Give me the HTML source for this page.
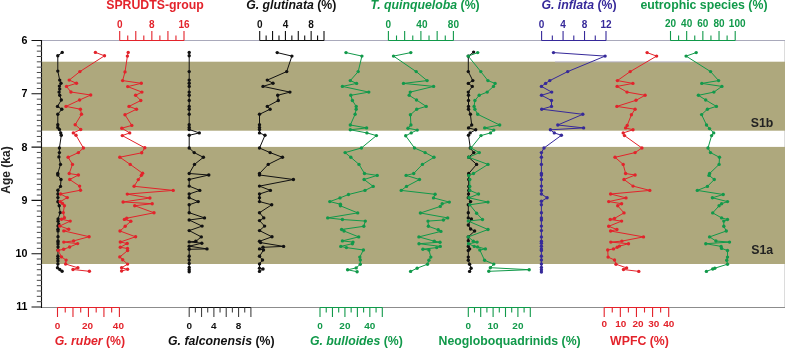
<!DOCTYPE html><html><head><meta charset="utf-8"><title>chart</title><style>html,body{margin:0;padding:0;background:#fff;}svg{display:block}</style></head><body>
<svg width="785" height="348" viewBox="0 0 785 348">
<line x1="784.5" y1="40.5" x2="784.5" y2="307.5" stroke="#dcdcdc" stroke-width="1"/>
<rect x="42" y="61.7" width="743" height="69" fill="#aea87d"/>
<rect x="42" y="146.9" width="743" height="117.1" fill="#aea87d"/>
<line x1="555" y1="61.9" x2="690" y2="61.9" stroke="#b8b4d6" stroke-width="0.8"/>
<line x1="42" y1="40.5" x2="785" y2="40.5" stroke="#a9a9bb" stroke-width="1"/>
<line x1="42" y1="307.5" x2="785" y2="307.5" stroke="#8c8c8c" stroke-width="1"/>
<line x1="41.5" y1="40" x2="41.5" y2="308" stroke="#111111" stroke-width="1.1"/>
<path d="M31.5 40.50H42 M31.5 93.80H42 M31.5 147.10H42 M31.5 200.40H42 M31.5 253.70H42 M31.5 307.00H42" stroke="#111111" stroke-width="1.1" fill="none"/>
<path d="M36.8 45.83H42 M36.8 51.16H42 M36.8 56.49H42 M36.8 61.82H42 M36.8 67.15H42 M36.8 72.48H42 M36.8 77.81H42 M36.8 83.14H42 M36.8 88.47H42 M36.8 99.13H42 M36.8 104.46H42 M36.8 109.79H42 M36.8 115.12H42 M36.8 120.45H42 M36.8 125.78H42 M36.8 131.11H42 M36.8 136.44H42 M36.8 141.77H42 M36.8 152.43H42 M36.8 157.76H42 M36.8 163.09H42 M36.8 168.42H42 M36.8 173.75H42 M36.8 179.08H42 M36.8 184.41H42 M36.8 189.74H42 M36.8 195.07H42 M36.8 205.73H42 M36.8 211.06H42 M36.8 216.39H42 M36.8 221.72H42 M36.8 227.05H42 M36.8 232.38H42 M36.8 237.71H42 M36.8 243.04H42 M36.8 248.37H42 M36.8 259.03H42 M36.8 264.36H42 M36.8 269.69H42 M36.8 275.02H42 M36.8 280.35H42 M36.8 285.68H42 M36.8 291.01H42 M36.8 296.34H42 M36.8 301.67H42" stroke="#4a4a4a" stroke-width="1" fill="none"/>
<text x="27.5" y="43.9" text-anchor="end" font-size="10.7" font-family="Liberation Sans, Arial, sans-serif" font-weight="bold" fill="#000">6</text>
<text x="27.5" y="97.2" text-anchor="end" font-size="10.7" font-family="Liberation Sans, Arial, sans-serif" font-weight="bold" fill="#000">7</text>
<text x="27.5" y="150.5" text-anchor="end" font-size="10.7" font-family="Liberation Sans, Arial, sans-serif" font-weight="bold" fill="#000">8</text>
<text x="27.5" y="203.8" text-anchor="end" font-size="10.7" font-family="Liberation Sans, Arial, sans-serif" font-weight="bold" fill="#000">9</text>
<text x="27.5" y="257.1" text-anchor="end" font-size="10.7" font-family="Liberation Sans, Arial, sans-serif" font-weight="bold" fill="#000">10</text>
<text x="27.5" y="310.4" text-anchor="end" font-size="10.7" font-family="Liberation Sans, Arial, sans-serif" font-weight="bold" fill="#000">11</text>
<text transform="translate(10.3,170) rotate(-90)" text-anchor="middle" font-size="12" font-family="Liberation Sans, Arial, sans-serif" font-weight="bold" fill="#222">Age (ka)</text>
<line x1="119.7" y1="40.5" x2="184" y2="40.5" stroke="#e3232b" stroke-width="1.2"/>
<path d="M119.70 40.5v-9.5 M127.74 40.5v-5 M135.78 40.5v-9.5 M143.81 40.5v-5 M151.85 40.5v-9.5 M159.89 40.5v-5 M167.93 40.5v-9.5 M175.96 40.5v-5 M184.00 40.5v-9.5" stroke="#e3232b" stroke-width="1.1" fill="none"/>
<text x="119.70" y="27.6" text-anchor="middle" font-size="10" font-family="Liberation Sans, Arial, sans-serif" font-weight="bold" fill="#e3232b">0</text>
<text x="151.85" y="27.6" text-anchor="middle" font-size="10" font-family="Liberation Sans, Arial, sans-serif" font-weight="bold" fill="#e3232b">8</text>
<text x="184.00" y="27.6" text-anchor="middle" font-size="10" font-family="Liberation Sans, Arial, sans-serif" font-weight="bold" fill="#e3232b">16</text>
<text x="106.2" y="9.2" font-size="12.3" font-family="Liberation Sans, Arial, sans-serif" font-weight="bold" fill="#e3232b"><tspan font-style="normal">SPRUDTS-group</tspan></text>
<line x1="259.7" y1="40.5" x2="324" y2="40.5" stroke="#111111" stroke-width="1.2"/>
<path d="M259.70 40.5v-9.5 M266.13 40.5v-5 M272.56 40.5v-9.5 M278.99 40.5v-5 M285.42 40.5v-9.5 M291.85 40.5v-5 M298.28 40.5v-9.5 M304.71 40.5v-5 M311.14 40.5v-9.5 M317.57 40.5v-5 M324.00 40.5v-9.5" stroke="#111111" stroke-width="1.1" fill="none"/>
<text x="259.70" y="27.6" text-anchor="middle" font-size="10" font-family="Liberation Sans, Arial, sans-serif" font-weight="bold" fill="#111111">0</text>
<text x="285.42" y="27.6" text-anchor="middle" font-size="10" font-family="Liberation Sans, Arial, sans-serif" font-weight="bold" fill="#111111">4</text>
<text x="311.14" y="27.6" text-anchor="middle" font-size="10" font-family="Liberation Sans, Arial, sans-serif" font-weight="bold" fill="#111111">8</text>
<text x="246.2" y="9.2" font-size="12.3" font-family="Liberation Sans, Arial, sans-serif" font-weight="bold" fill="#111111"><tspan font-style="italic">G. glutinata</tspan><tspan font-style="normal"> (%)</tspan></text>
<line x1="388.4" y1="40.5" x2="453.4" y2="40.5" stroke="#11994a" stroke-width="1.2"/>
<path d="M388.40 40.5v-9.5 M396.52 40.5v-5 M404.65 40.5v-9.5 M412.77 40.5v-5 M420.90 40.5v-9.5 M429.02 40.5v-5 M437.15 40.5v-9.5 M445.27 40.5v-5 M453.40 40.5v-9.5" stroke="#11994a" stroke-width="1.1" fill="none"/>
<text x="388.40" y="27.6" text-anchor="middle" font-size="10" font-family="Liberation Sans, Arial, sans-serif" font-weight="bold" fill="#11994a">0</text>
<text x="421.90" y="27.6" text-anchor="middle" font-size="10" font-family="Liberation Sans, Arial, sans-serif" font-weight="bold" fill="#11994a">40</text>
<text x="453.40" y="27.6" text-anchor="middle" font-size="10" font-family="Liberation Sans, Arial, sans-serif" font-weight="bold" fill="#11994a">80</text>
<text x="370.6" y="9.2" font-size="12.3" font-family="Liberation Sans, Arial, sans-serif" font-weight="bold" fill="#11994a"><tspan font-style="italic">T. quinqueloba</tspan><tspan font-style="normal"> (%)</tspan></text>
<line x1="541.6" y1="40.5" x2="606" y2="40.5" stroke="#36299a" stroke-width="1.2"/>
<path d="M541.60 40.5v-9.5 M552.33 40.5v-5 M563.07 40.5v-9.5 M573.80 40.5v-5 M584.53 40.5v-9.5 M595.27 40.5v-5 M606.00 40.5v-9.5" stroke="#36299a" stroke-width="1.1" fill="none"/>
<text x="541.60" y="27.6" text-anchor="middle" font-size="10" font-family="Liberation Sans, Arial, sans-serif" font-weight="bold" fill="#36299a">0</text>
<text x="563.07" y="27.6" text-anchor="middle" font-size="10" font-family="Liberation Sans, Arial, sans-serif" font-weight="bold" fill="#36299a">4</text>
<text x="584.53" y="27.6" text-anchor="middle" font-size="10" font-family="Liberation Sans, Arial, sans-serif" font-weight="bold" fill="#36299a">8</text>
<text x="606.00" y="27.6" text-anchor="middle" font-size="10" font-family="Liberation Sans, Arial, sans-serif" font-weight="bold" fill="#36299a">12</text>
<text x="541.4" y="9.2" font-size="12.3" font-family="Liberation Sans, Arial, sans-serif" font-weight="bold" fill="#36299a"><tspan font-style="italic">G. inflata</tspan><tspan font-style="normal"> (%)</tspan></text>
<line x1="670.5" y1="40.5" x2="735.2" y2="40.5" stroke="#11994a" stroke-width="1.2"/>
<path d="M670.50 40.5v-9.5 M678.59 40.5v-5 M686.67 40.5v-9.5 M694.76 40.5v-5 M702.85 40.5v-9.5 M710.94 40.5v-5 M719.03 40.5v-9.5 M727.11 40.5v-5 M735.20 40.5v-9.5" stroke="#11994a" stroke-width="1.1" fill="none"/>
<text x="670.50" y="27.0" text-anchor="middle" font-size="10" font-family="Liberation Sans, Arial, sans-serif" font-weight="bold" fill="#11994a">20</text>
<text x="686.67" y="27.0" text-anchor="middle" font-size="10" font-family="Liberation Sans, Arial, sans-serif" font-weight="bold" fill="#11994a">40</text>
<text x="702.85" y="27.0" text-anchor="middle" font-size="10" font-family="Liberation Sans, Arial, sans-serif" font-weight="bold" fill="#11994a">60</text>
<text x="719.03" y="27.0" text-anchor="middle" font-size="10" font-family="Liberation Sans, Arial, sans-serif" font-weight="bold" fill="#11994a">80</text>
<text x="737.20" y="27.0" text-anchor="middle" font-size="10" font-family="Liberation Sans, Arial, sans-serif" font-weight="bold" fill="#11994a">100</text>
<text x="640.4" y="9.2" font-size="12.3" font-family="Liberation Sans, Arial, sans-serif" font-weight="bold" fill="#11994a"><tspan font-style="normal">eutrophic species (%)</tspan></text>
<line x1="57.5" y1="307.5" x2="119.4" y2="307.5" stroke="#e3232b" stroke-width="1.2"/>
<path d="M57.50 307.5v9.5 M65.24 307.5v5 M72.97 307.5v9.5 M80.71 307.5v5 M88.45 307.5v9.5 M96.19 307.5v5 M103.93 307.5v9.5 M111.66 307.5v5 M119.40 307.5v9.5" stroke="#e3232b" stroke-width="1.1" fill="none"/>
<text transform="translate(57.50,329.3) scale(1,0.9)" text-anchor="middle" font-size="10" font-family="Liberation Sans, Arial, sans-serif" font-weight="bold" fill="#e3232b">0</text>
<text transform="translate(87.45,329.3) scale(1,0.9)" text-anchor="middle" font-size="10" font-family="Liberation Sans, Arial, sans-serif" font-weight="bold" fill="#e3232b">20</text>
<text transform="translate(118.40,329.3) scale(1,0.9)" text-anchor="middle" font-size="10" font-family="Liberation Sans, Arial, sans-serif" font-weight="bold" fill="#e3232b">40</text>
<text x="54.7" y="345.0" font-size="12.3" font-family="Liberation Sans, Arial, sans-serif" font-weight="bold" fill="#e3232b"><tspan font-style="italic">G. ruber</tspan><tspan font-style="normal"> (%)</tspan></text>
<line x1="189.2" y1="307.5" x2="250.9" y2="307.5" stroke="#111111" stroke-width="1.2"/>
<path d="M189.20 307.5v9.5 M195.37 307.5v5 M201.54 307.5v9.5 M207.71 307.5v5 M213.88 307.5v9.5 M220.05 307.5v5 M226.22 307.5v9.5 M232.39 307.5v5 M238.56 307.5v9.5 M244.73 307.5v5 M250.90 307.5v9.5" stroke="#444" stroke-width="1.1" fill="none"/>
<text transform="translate(189.20,329.3) scale(1,0.9)" text-anchor="middle" font-size="10" font-family="Liberation Sans, Arial, sans-serif" font-weight="bold" fill="#111111">0</text>
<text transform="translate(213.88,329.3) scale(1,0.9)" text-anchor="middle" font-size="10" font-family="Liberation Sans, Arial, sans-serif" font-weight="bold" fill="#111111">4</text>
<text transform="translate(238.56,329.3) scale(1,0.9)" text-anchor="middle" font-size="10" font-family="Liberation Sans, Arial, sans-serif" font-weight="bold" fill="#111111">8</text>
<text x="168.0" y="345.0" font-size="12.3" font-family="Liberation Sans, Arial, sans-serif" font-weight="bold" fill="#111111"><tspan font-style="italic">G. falconensis</tspan><tspan font-style="normal"> (%)</tspan></text>
<line x1="320" y1="307.5" x2="382.3" y2="307.5" stroke="#11994a" stroke-width="1.2"/>
<path d="M320.00 307.5v9.5 M326.23 307.5v5 M332.46 307.5v9.5 M338.69 307.5v5 M344.92 307.5v9.5 M351.15 307.5v5 M357.38 307.5v9.5 M363.61 307.5v5 M369.84 307.5v9.5 M376.07 307.5v5 M382.30 307.5v9.5" stroke="#11994a" stroke-width="1.1" fill="none"/>
<text transform="translate(320.00,329.3) scale(1,0.9)" text-anchor="middle" font-size="10" font-family="Liberation Sans, Arial, sans-serif" font-weight="bold" fill="#11994a">0</text>
<text transform="translate(344.92,329.3) scale(1,0.9)" text-anchor="middle" font-size="10" font-family="Liberation Sans, Arial, sans-serif" font-weight="bold" fill="#11994a">20</text>
<text transform="translate(369.84,329.3) scale(1,0.9)" text-anchor="middle" font-size="10" font-family="Liberation Sans, Arial, sans-serif" font-weight="bold" fill="#11994a">40</text>
<text x="309.9" y="345.0" font-size="12.3" font-family="Liberation Sans, Arial, sans-serif" font-weight="bold" fill="#11994a"><tspan font-style="italic">G. bulloides</tspan><tspan font-style="normal"> (%)</tspan></text>
<line x1="468.3" y1="307.5" x2="530.3" y2="307.5" stroke="#11994a" stroke-width="1.2"/>
<path d="M468.30 307.5v9.5 M474.50 307.5v5 M480.70 307.5v9.5 M486.90 307.5v5 M493.10 307.5v9.5 M499.30 307.5v5 M505.50 307.5v9.5 M511.70 307.5v5 M517.90 307.5v9.5 M524.10 307.5v5 M530.30 307.5v9.5" stroke="#11994a" stroke-width="1.1" fill="none"/>
<text transform="translate(468.30,329.3) scale(1,0.9)" text-anchor="middle" font-size="10" font-family="Liberation Sans, Arial, sans-serif" font-weight="bold" fill="#11994a">0</text>
<text transform="translate(493.10,329.3) scale(1,0.9)" text-anchor="middle" font-size="10" font-family="Liberation Sans, Arial, sans-serif" font-weight="bold" fill="#11994a">10</text>
<text transform="translate(517.90,329.3) scale(1,0.9)" text-anchor="middle" font-size="10" font-family="Liberation Sans, Arial, sans-serif" font-weight="bold" fill="#11994a">20</text>
<text x="438.6" y="345.0" font-size="12.3" font-family="Liberation Sans, Arial, sans-serif" font-weight="bold" fill="#11994a"><tspan font-style="normal">Neogloboquadrinids (%)</tspan></text>
<line x1="604.2" y1="307.5" x2="668.7" y2="307.5" stroke="#e3232b" stroke-width="1.2"/>
<path d="M604.20 307.5v9.5 M612.26 307.5v5 M620.33 307.5v9.5 M628.39 307.5v5 M636.45 307.5v9.5 M644.51 307.5v5 M652.58 307.5v9.5 M660.64 307.5v5 M668.70 307.5v9.5" stroke="#e3232b" stroke-width="1.1" fill="none"/>
<text transform="translate(604.20,327.2) scale(1,0.9)" text-anchor="middle" font-size="10" font-family="Liberation Sans, Arial, sans-serif" font-weight="bold" fill="#e3232b">0</text>
<text transform="translate(620.83,327.2) scale(1,0.9)" text-anchor="middle" font-size="10" font-family="Liberation Sans, Arial, sans-serif" font-weight="bold" fill="#e3232b">10</text>
<text transform="translate(637.95,327.2) scale(1,0.9)" text-anchor="middle" font-size="10" font-family="Liberation Sans, Arial, sans-serif" font-weight="bold" fill="#e3232b">20</text>
<text transform="translate(653.78,327.2) scale(1,0.9)" text-anchor="middle" font-size="10" font-family="Liberation Sans, Arial, sans-serif" font-weight="bold" fill="#e3232b">30</text>
<text transform="translate(668.70,327.2) scale(1,0.9)" text-anchor="middle" font-size="10" font-family="Liberation Sans, Arial, sans-serif" font-weight="bold" fill="#e3232b">40</text>
<text x="610.1" y="345.0" font-size="12.3" font-family="Liberation Sans, Arial, sans-serif" font-weight="bold" fill="#e3232b"><tspan font-style="normal">WPFC (%)</tspan></text>
<polyline points="62.2,52.4 57.8,55.8 57.8,71.1 59.7,80.1 61.0,83.3 59.4,86.1 59.7,89.0 59.1,92.1 59.7,95.3 61.3,100.0 57.5,106.4 61.8,109.2 57.8,114.3 57.8,124.7 57.8,127.4 59.4,129.5 60.7,132.9 61.3,135.3 59.4,148.0 59.4,152.6 58.9,156.9 60.5,164.4 57.8,173.5 57.8,175.0 61.0,179.5 60.5,186.4 57.9,190.2 57.9,194.0 57.9,197.6 57.9,201.7 59.2,205.7 60.2,212.6 58.1,218.9 58.1,221.2 58.7,224.1 58.0,226.0 58.0,229.2 58.0,230.9 58.0,236.7 58.0,240.9 58.0,242.1 58.0,244.1 58.0,247.0 58.0,250.1 57.9,256.3 57.9,258.6 57.9,260.9 57.9,264.0 57.5,267.8 59.8,269.5 62.1,271.3" fill="none" stroke="#111111" stroke-width="1.0" stroke-linejoin="round"/>
<g fill="#111111"><circle cx="62.2" cy="52.4" r="1.7"/><circle cx="57.8" cy="55.8" r="1.7"/><circle cx="57.8" cy="71.1" r="1.7"/><circle cx="59.7" cy="80.1" r="1.7"/><circle cx="61.0" cy="83.3" r="1.7"/><circle cx="59.4" cy="86.1" r="1.7"/><circle cx="59.7" cy="89.0" r="1.7"/><circle cx="59.1" cy="92.1" r="1.7"/><circle cx="59.7" cy="95.3" r="1.7"/><circle cx="61.3" cy="100.0" r="1.7"/><circle cx="57.5" cy="106.4" r="1.7"/><circle cx="61.8" cy="109.2" r="1.7"/><circle cx="57.8" cy="114.3" r="1.7"/><circle cx="57.8" cy="124.7" r="1.7"/><circle cx="57.8" cy="127.4" r="1.7"/><circle cx="59.4" cy="129.5" r="1.7"/><circle cx="60.7" cy="132.9" r="1.7"/><circle cx="61.3" cy="135.3" r="1.7"/><circle cx="59.4" cy="148.0" r="1.7"/><circle cx="59.4" cy="152.6" r="1.7"/><circle cx="58.9" cy="156.9" r="1.7"/><circle cx="60.5" cy="164.4" r="1.7"/><circle cx="57.8" cy="173.5" r="1.7"/><circle cx="57.8" cy="175.0" r="1.7"/><circle cx="61.0" cy="179.5" r="1.7"/><circle cx="60.5" cy="186.4" r="1.7"/><circle cx="57.9" cy="190.2" r="1.7"/><circle cx="57.9" cy="194.0" r="1.7"/><circle cx="57.9" cy="197.6" r="1.7"/><circle cx="57.9" cy="201.7" r="1.7"/><circle cx="59.2" cy="205.7" r="1.7"/><circle cx="60.2" cy="212.6" r="1.7"/><circle cx="58.1" cy="218.9" r="1.7"/><circle cx="58.1" cy="221.2" r="1.7"/><circle cx="58.7" cy="224.1" r="1.7"/><circle cx="58.0" cy="226.0" r="1.7"/><circle cx="58.0" cy="229.2" r="1.7"/><circle cx="58.0" cy="230.9" r="1.7"/><circle cx="58.0" cy="236.7" r="1.7"/><circle cx="58.0" cy="240.9" r="1.7"/><circle cx="58.0" cy="242.1" r="1.7"/><circle cx="58.0" cy="244.1" r="1.7"/><circle cx="58.0" cy="247.0" r="1.7"/><circle cx="58.0" cy="250.1" r="1.7"/><circle cx="57.9" cy="256.3" r="1.7"/><circle cx="57.9" cy="258.6" r="1.7"/><circle cx="57.9" cy="260.9" r="1.7"/><circle cx="57.9" cy="264.0" r="1.7"/><circle cx="57.5" cy="267.8" r="1.7"/><circle cx="59.8" cy="269.5" r="1.7"/><circle cx="62.1" cy="271.3" r="1.7"/></g>
<polyline points="95.4,52.4 104.5,55.8 79.9,71.6 69.2,80.1 76.5,83.3 66.5,86.4 70.9,92.0 90.7,95.0 79.6,100.0 66.0,106.4 80.4,109.2 81.5,114.3 75.2,124.7 80.7,129.5 73.3,132.9 76.0,135.3 83.4,148.0 78.4,152.6 68.1,157.3 72.5,164.4 69.2,173.5 78.4,175.0 69.7,179.5 79.6,186.1 80.5,190.2 60.6,194.0 67.3,197.6 60.2,201.7 62.5,203.4 64.4,205.7 63.3,212.6 64.4,217.8 61.5,219.3 70.2,221.1 59.8,226.0 68.7,229.2 63.8,230.9 89.1,236.7 73.6,240.9 63.8,242.1 77.6,243.6 69.6,247.0 63.6,249.3 58.1,250.4 61.5,256.9 66.1,260.1 65.6,264.0 77.9,267.8 73.0,269.5 89.4,271.3" fill="none" stroke="#e3232b" stroke-width="1.0" stroke-linejoin="round"/>
<g fill="#e3232b"><circle cx="95.4" cy="52.4" r="1.7"/><circle cx="104.5" cy="55.8" r="1.7"/><circle cx="79.9" cy="71.6" r="1.7"/><circle cx="69.2" cy="80.1" r="1.7"/><circle cx="76.5" cy="83.3" r="1.7"/><circle cx="66.5" cy="86.4" r="1.7"/><circle cx="70.9" cy="92.0" r="1.7"/><circle cx="90.7" cy="95.0" r="1.7"/><circle cx="79.6" cy="100.0" r="1.7"/><circle cx="66.0" cy="106.4" r="1.7"/><circle cx="80.4" cy="109.2" r="1.7"/><circle cx="81.5" cy="114.3" r="1.7"/><circle cx="75.2" cy="124.7" r="1.7"/><circle cx="80.7" cy="129.5" r="1.7"/><circle cx="73.3" cy="132.9" r="1.7"/><circle cx="76.0" cy="135.3" r="1.7"/><circle cx="83.4" cy="148.0" r="1.7"/><circle cx="78.4" cy="152.6" r="1.7"/><circle cx="68.1" cy="157.3" r="1.7"/><circle cx="72.5" cy="164.4" r="1.7"/><circle cx="69.2" cy="173.5" r="1.7"/><circle cx="78.4" cy="175.0" r="1.7"/><circle cx="69.7" cy="179.5" r="1.7"/><circle cx="79.6" cy="186.1" r="1.7"/><circle cx="80.5" cy="190.2" r="1.7"/><circle cx="60.6" cy="194.0" r="1.7"/><circle cx="67.3" cy="197.6" r="1.7"/><circle cx="60.2" cy="201.7" r="1.7"/><circle cx="62.5" cy="203.4" r="1.7"/><circle cx="64.4" cy="205.7" r="1.7"/><circle cx="63.3" cy="212.6" r="1.7"/><circle cx="64.4" cy="217.8" r="1.7"/><circle cx="61.5" cy="219.3" r="1.7"/><circle cx="70.2" cy="221.1" r="1.7"/><circle cx="59.8" cy="226.0" r="1.7"/><circle cx="68.7" cy="229.2" r="1.7"/><circle cx="63.8" cy="230.9" r="1.7"/><circle cx="89.1" cy="236.7" r="1.7"/><circle cx="73.6" cy="240.9" r="1.7"/><circle cx="63.8" cy="242.1" r="1.7"/><circle cx="77.6" cy="243.6" r="1.7"/><circle cx="69.6" cy="247.0" r="1.7"/><circle cx="63.6" cy="249.3" r="1.7"/><circle cx="58.1" cy="250.4" r="1.7"/><circle cx="61.5" cy="256.9" r="1.7"/><circle cx="66.1" cy="260.1" r="1.7"/><circle cx="65.6" cy="264.0" r="1.7"/><circle cx="77.9" cy="267.8" r="1.7"/><circle cx="73.0" cy="269.5" r="1.7"/><circle cx="89.4" cy="271.3" r="1.7"/></g>
<polyline points="128.2,52.4 127.4,56.1 125.0,71.9 122.6,80.6 141.3,83.3 127.7,86.6 141.9,92.1 135.6,95.3 140.8,100.5 129.0,106.4 136.5,109.2 125.0,114.8 131.8,125.4 121.8,128.2 129.7,132.9 122.3,135.6 144.8,147.8 141.7,152.8 119.8,157.2 130.2,164.4 142.6,173.3 141.4,175.3 138.3,179.6 134.1,186.3 173.2,190.4 127.3,194.1 149.9,198.0 123.1,202.0 152.2,203.7 134.7,205.7 154.0,212.8 126.7,218.2 124.4,219.4 130.8,221.2 125.2,226.3 120.0,231.0 135.6,236.8 120.3,242.0 127.2,243.5 120.3,247.3 127.5,248.5 127.6,250.6 119.8,256.9 122.7,259.8 127.6,264.1 121.6,267.8 127.6,269.3 121.6,271.0" fill="none" stroke="#e3232b" stroke-width="1.0" stroke-linejoin="round"/>
<g fill="#e3232b"><circle cx="128.2" cy="52.4" r="1.7"/><circle cx="127.4" cy="56.1" r="1.7"/><circle cx="125.0" cy="71.9" r="1.7"/><circle cx="122.6" cy="80.6" r="1.7"/><circle cx="141.3" cy="83.3" r="1.7"/><circle cx="127.7" cy="86.6" r="1.7"/><circle cx="141.9" cy="92.1" r="1.7"/><circle cx="135.6" cy="95.3" r="1.7"/><circle cx="140.8" cy="100.5" r="1.7"/><circle cx="129.0" cy="106.4" r="1.7"/><circle cx="136.5" cy="109.2" r="1.7"/><circle cx="125.0" cy="114.8" r="1.7"/><circle cx="131.8" cy="125.4" r="1.7"/><circle cx="121.8" cy="128.2" r="1.7"/><circle cx="129.7" cy="132.9" r="1.7"/><circle cx="122.3" cy="135.6" r="1.7"/><circle cx="144.8" cy="147.8" r="1.7"/><circle cx="141.7" cy="152.8" r="1.7"/><circle cx="119.8" cy="157.2" r="1.7"/><circle cx="130.2" cy="164.4" r="1.7"/><circle cx="142.6" cy="173.3" r="1.7"/><circle cx="141.4" cy="175.3" r="1.7"/><circle cx="138.3" cy="179.6" r="1.7"/><circle cx="134.1" cy="186.3" r="1.7"/><circle cx="173.2" cy="190.4" r="1.7"/><circle cx="127.3" cy="194.1" r="1.7"/><circle cx="149.9" cy="198.0" r="1.7"/><circle cx="123.1" cy="202.0" r="1.7"/><circle cx="152.2" cy="203.7" r="1.7"/><circle cx="134.7" cy="205.7" r="1.7"/><circle cx="154.0" cy="212.8" r="1.7"/><circle cx="126.7" cy="218.2" r="1.7"/><circle cx="124.4" cy="219.4" r="1.7"/><circle cx="130.8" cy="221.2" r="1.7"/><circle cx="125.2" cy="226.3" r="1.7"/><circle cx="120.0" cy="231.0" r="1.7"/><circle cx="135.6" cy="236.8" r="1.7"/><circle cx="120.3" cy="242.0" r="1.7"/><circle cx="127.2" cy="243.5" r="1.7"/><circle cx="120.3" cy="247.3" r="1.7"/><circle cx="127.5" cy="248.5" r="1.7"/><circle cx="127.6" cy="250.6" r="1.7"/><circle cx="119.8" cy="256.9" r="1.7"/><circle cx="122.7" cy="259.8" r="1.7"/><circle cx="127.6" cy="264.1" r="1.7"/><circle cx="121.6" cy="267.8" r="1.7"/><circle cx="127.6" cy="269.3" r="1.7"/><circle cx="121.6" cy="271.0" r="1.7"/></g>
<polyline points="189.2,52.4 189.2,55.8 189.2,71.6 189.2,80.1 189.2,83.3 189.2,86.4 189.2,92.1 189.2,95.3 189.2,100.5 189.2,106.4 189.2,109.2 189.2,114.3 189.2,124.7 189.2,127.4 189.2,129.5 199.3,132.9 189.2,135.3 189.2,148.0 194.2,152.6 203.4,157.3 194.5,164.4 189.2,173.5 208.8,175.0 189.2,179.5 189.2,186.1 199.8,190.4 189.2,194.0 189.2,197.7 198.2,201.6 189.2,204.8 189.2,212.7 204.5,217.9 189.2,220.0 202.1,226.1 189.2,230.6 201.3,236.9 195.8,241.3 189.2,241.9 201.8,243.2 189.2,246.2 207.0,248.9 189.2,249.3 189.2,256.3 189.2,260.0 189.2,263.5 189.2,267.4 189.2,269.8 189.2,271.7" fill="none" stroke="#111111" stroke-width="1.0" stroke-linejoin="round"/>
<g fill="#111111"><circle cx="189.2" cy="52.4" r="1.7"/><circle cx="189.2" cy="55.8" r="1.7"/><circle cx="189.2" cy="71.6" r="1.7"/><circle cx="189.2" cy="80.1" r="1.7"/><circle cx="189.2" cy="83.3" r="1.7"/><circle cx="189.2" cy="86.4" r="1.7"/><circle cx="189.2" cy="92.1" r="1.7"/><circle cx="189.2" cy="95.3" r="1.7"/><circle cx="189.2" cy="100.5" r="1.7"/><circle cx="189.2" cy="106.4" r="1.7"/><circle cx="189.2" cy="109.2" r="1.7"/><circle cx="189.2" cy="114.3" r="1.7"/><circle cx="189.2" cy="124.7" r="1.7"/><circle cx="189.2" cy="127.4" r="1.7"/><circle cx="189.2" cy="129.5" r="1.7"/><circle cx="199.3" cy="132.9" r="1.7"/><circle cx="189.2" cy="135.3" r="1.7"/><circle cx="189.2" cy="148.0" r="1.7"/><circle cx="194.2" cy="152.6" r="1.7"/><circle cx="203.4" cy="157.3" r="1.7"/><circle cx="194.5" cy="164.4" r="1.7"/><circle cx="189.2" cy="173.5" r="1.7"/><circle cx="208.8" cy="175.0" r="1.7"/><circle cx="189.2" cy="179.5" r="1.7"/><circle cx="189.2" cy="186.1" r="1.7"/><circle cx="199.8" cy="190.4" r="1.7"/><circle cx="189.2" cy="194.0" r="1.7"/><circle cx="189.2" cy="197.7" r="1.7"/><circle cx="198.2" cy="201.6" r="1.7"/><circle cx="189.2" cy="204.8" r="1.7"/><circle cx="189.2" cy="212.7" r="1.7"/><circle cx="204.5" cy="217.9" r="1.7"/><circle cx="189.2" cy="220.0" r="1.7"/><circle cx="202.1" cy="226.1" r="1.7"/><circle cx="189.2" cy="230.6" r="1.7"/><circle cx="201.3" cy="236.9" r="1.7"/><circle cx="195.8" cy="241.3" r="1.7"/><circle cx="189.2" cy="241.9" r="1.7"/><circle cx="201.8" cy="243.2" r="1.7"/><circle cx="189.2" cy="246.2" r="1.7"/><circle cx="207.0" cy="248.9" r="1.7"/><circle cx="189.2" cy="249.3" r="1.7"/><circle cx="189.2" cy="256.3" r="1.7"/><circle cx="189.2" cy="260.0" r="1.7"/><circle cx="189.2" cy="263.5" r="1.7"/><circle cx="189.2" cy="267.4" r="1.7"/><circle cx="189.2" cy="269.8" r="1.7"/><circle cx="189.2" cy="271.7" r="1.7"/></g>
<polyline points="277.2,52.6 291.9,56.1 286.7,71.6 267.3,80.1 273.0,83.3 263.0,86.4 289.9,92.1 277.7,95.3 278.3,100.5 267.3,106.4 270.1,109.2 259.5,114.3 259.5,124.7 259.5,127.4 259.5,129.5 259.5,132.9 265.0,135.3 259.5,148.0 270.1,152.6 282.5,157.3 268.2,164.4 259.5,173.5 259.5,175.0 293.4,179.5 259.5,186.1 270.4,190.4 259.5,194.0 259.5,197.7 259.5,201.6 271.7,204.8 259.5,212.7 263.8,217.9 259.5,220.6 264.6,226.1 259.5,230.6 272.0,236.8 259.5,241.3 260.6,242.6 283.6,246.4 263.0,247.3 259.5,248.9 263.5,250.0 259.5,256.3 262.5,260.0 259.5,263.9 259.5,268.2 263.0,269.0 259.5,271.4" fill="none" stroke="#111111" stroke-width="1.0" stroke-linejoin="round"/>
<g fill="#111111"><circle cx="277.2" cy="52.6" r="1.7"/><circle cx="291.9" cy="56.1" r="1.7"/><circle cx="286.7" cy="71.6" r="1.7"/><circle cx="267.3" cy="80.1" r="1.7"/><circle cx="273.0" cy="83.3" r="1.7"/><circle cx="263.0" cy="86.4" r="1.7"/><circle cx="289.9" cy="92.1" r="1.7"/><circle cx="277.7" cy="95.3" r="1.7"/><circle cx="278.3" cy="100.5" r="1.7"/><circle cx="267.3" cy="106.4" r="1.7"/><circle cx="270.1" cy="109.2" r="1.7"/><circle cx="259.5" cy="114.3" r="1.7"/><circle cx="259.5" cy="124.7" r="1.7"/><circle cx="259.5" cy="127.4" r="1.7"/><circle cx="259.5" cy="129.5" r="1.7"/><circle cx="259.5" cy="132.9" r="1.7"/><circle cx="265.0" cy="135.3" r="1.7"/><circle cx="259.5" cy="148.0" r="1.7"/><circle cx="270.1" cy="152.6" r="1.7"/><circle cx="282.5" cy="157.3" r="1.7"/><circle cx="268.2" cy="164.4" r="1.7"/><circle cx="259.5" cy="173.5" r="1.7"/><circle cx="259.5" cy="175.0" r="1.7"/><circle cx="293.4" cy="179.5" r="1.7"/><circle cx="259.5" cy="186.1" r="1.7"/><circle cx="270.4" cy="190.4" r="1.7"/><circle cx="259.5" cy="194.0" r="1.7"/><circle cx="259.5" cy="197.7" r="1.7"/><circle cx="259.5" cy="201.6" r="1.7"/><circle cx="271.7" cy="204.8" r="1.7"/><circle cx="259.5" cy="212.7" r="1.7"/><circle cx="263.8" cy="217.9" r="1.7"/><circle cx="259.5" cy="220.6" r="1.7"/><circle cx="264.6" cy="226.1" r="1.7"/><circle cx="259.5" cy="230.6" r="1.7"/><circle cx="272.0" cy="236.8" r="1.7"/><circle cx="259.5" cy="241.3" r="1.7"/><circle cx="260.6" cy="242.6" r="1.7"/><circle cx="283.6" cy="246.4" r="1.7"/><circle cx="263.0" cy="247.3" r="1.7"/><circle cx="259.5" cy="248.9" r="1.7"/><circle cx="263.5" cy="250.0" r="1.7"/><circle cx="259.5" cy="256.3" r="1.7"/><circle cx="262.5" cy="260.0" r="1.7"/><circle cx="259.5" cy="263.9" r="1.7"/><circle cx="259.5" cy="268.2" r="1.7"/><circle cx="263.0" cy="269.0" r="1.7"/><circle cx="259.5" cy="271.4" r="1.7"/></g>
<polyline points="346.0,52.6 361.9,56.1 358.2,71.6 350.3,80.6 356.6,83.4 342.4,86.4 368.8,92.1 350.8,95.3 352.4,100.5 356.2,106.4 356.2,109.2 355.1,114.3 350.3,125.0 366.6,127.9 350.3,129.8 366.9,132.9 376.4,135.6 361.4,148.0 345.1,152.6 350.8,157.3 359.0,164.4 364.5,173.5 377.2,175.4 364.1,179.5 373.2,186.4 365.0,190.4 348.5,194.5 340.0,197.9 329.8,201.6 340.4,204.2 340.4,205.8 357.7,212.9 327.7,217.9 342.4,219.5 365.3,221.1 363.8,226.3 341.6,229.5 344.0,231.0 358.7,236.9 342.4,240.9 353.0,242.1 352.4,243.7 340.8,246.4 346.4,247.6 363.4,250.0 359.8,257.1 360.3,260.0 360.3,264.2 356.2,267.9 347.6,269.8 357.1,271.7" fill="none" stroke="#11994a" stroke-width="1.0" stroke-linejoin="round"/>
<g fill="#11994a"><circle cx="346.0" cy="52.6" r="1.7"/><circle cx="361.9" cy="56.1" r="1.7"/><circle cx="358.2" cy="71.6" r="1.7"/><circle cx="350.3" cy="80.6" r="1.7"/><circle cx="356.6" cy="83.4" r="1.7"/><circle cx="342.4" cy="86.4" r="1.7"/><circle cx="368.8" cy="92.1" r="1.7"/><circle cx="350.8" cy="95.3" r="1.7"/><circle cx="352.4" cy="100.5" r="1.7"/><circle cx="356.2" cy="106.4" r="1.7"/><circle cx="356.2" cy="109.2" r="1.7"/><circle cx="355.1" cy="114.3" r="1.7"/><circle cx="350.3" cy="125.0" r="1.7"/><circle cx="366.6" cy="127.9" r="1.7"/><circle cx="350.3" cy="129.8" r="1.7"/><circle cx="366.9" cy="132.9" r="1.7"/><circle cx="376.4" cy="135.6" r="1.7"/><circle cx="361.4" cy="148.0" r="1.7"/><circle cx="345.1" cy="152.6" r="1.7"/><circle cx="350.8" cy="157.3" r="1.7"/><circle cx="359.0" cy="164.4" r="1.7"/><circle cx="364.5" cy="173.5" r="1.7"/><circle cx="377.2" cy="175.4" r="1.7"/><circle cx="364.1" cy="179.5" r="1.7"/><circle cx="373.2" cy="186.4" r="1.7"/><circle cx="365.0" cy="190.4" r="1.7"/><circle cx="348.5" cy="194.5" r="1.7"/><circle cx="340.0" cy="197.9" r="1.7"/><circle cx="329.8" cy="201.6" r="1.7"/><circle cx="340.4" cy="204.2" r="1.7"/><circle cx="340.4" cy="205.8" r="1.7"/><circle cx="357.7" cy="212.9" r="1.7"/><circle cx="327.7" cy="217.9" r="1.7"/><circle cx="342.4" cy="219.5" r="1.7"/><circle cx="365.3" cy="221.1" r="1.7"/><circle cx="363.8" cy="226.3" r="1.7"/><circle cx="341.6" cy="229.5" r="1.7"/><circle cx="344.0" cy="231.0" r="1.7"/><circle cx="358.7" cy="236.9" r="1.7"/><circle cx="342.4" cy="240.9" r="1.7"/><circle cx="353.0" cy="242.1" r="1.7"/><circle cx="352.4" cy="243.7" r="1.7"/><circle cx="340.8" cy="246.4" r="1.7"/><circle cx="346.4" cy="247.6" r="1.7"/><circle cx="363.4" cy="250.0" r="1.7"/><circle cx="359.8" cy="257.1" r="1.7"/><circle cx="360.3" cy="260.0" r="1.7"/><circle cx="360.3" cy="264.2" r="1.7"/><circle cx="356.2" cy="267.9" r="1.7"/><circle cx="347.6" cy="269.8" r="1.7"/><circle cx="357.1" cy="271.7" r="1.7"/></g>
<polyline points="410.8,52.6 393.5,56.1 416.2,71.6 427.1,80.6 403.5,83.4 433.6,86.4 410.3,92.1 409.2,95.3 416.5,100.0 426.2,106.4 416.7,109.2 410.4,114.8 410.9,125.0 408.0,128.2 417.2,130.1 411.2,132.9 405.7,135.8 414.5,148.0 425.1,152.6 434.0,157.3 422.4,164.4 413.7,173.5 406.1,175.4 419.5,179.5 406.5,186.4 401.2,190.4 435.1,194.3 433.5,197.9 449.3,202.1 442.2,203.7 440.3,206.4 420.4,213.0 447.7,217.9 443.4,220.0 428.0,221.1 428.4,226.3 438.2,229.8 440.9,231.4 418.9,236.9 434.3,241.2 440.0,242.2 419.0,243.7 440.3,246.4 436.7,247.6 422.9,249.2 429.0,250.0 430.8,257.1 428.9,260.3 427.5,264.2 417.1,268.2 410.6,271.4" fill="none" stroke="#11994a" stroke-width="1.0" stroke-linejoin="round"/>
<g fill="#11994a"><circle cx="410.8" cy="52.6" r="1.7"/><circle cx="393.5" cy="56.1" r="1.7"/><circle cx="416.2" cy="71.6" r="1.7"/><circle cx="427.1" cy="80.6" r="1.7"/><circle cx="403.5" cy="83.4" r="1.7"/><circle cx="433.6" cy="86.4" r="1.7"/><circle cx="410.3" cy="92.1" r="1.7"/><circle cx="409.2" cy="95.3" r="1.7"/><circle cx="416.5" cy="100.0" r="1.7"/><circle cx="426.2" cy="106.4" r="1.7"/><circle cx="416.7" cy="109.2" r="1.7"/><circle cx="410.4" cy="114.8" r="1.7"/><circle cx="410.9" cy="125.0" r="1.7"/><circle cx="408.0" cy="128.2" r="1.7"/><circle cx="417.2" cy="130.1" r="1.7"/><circle cx="411.2" cy="132.9" r="1.7"/><circle cx="405.7" cy="135.8" r="1.7"/><circle cx="414.5" cy="148.0" r="1.7"/><circle cx="425.1" cy="152.6" r="1.7"/><circle cx="434.0" cy="157.3" r="1.7"/><circle cx="422.4" cy="164.4" r="1.7"/><circle cx="413.7" cy="173.5" r="1.7"/><circle cx="406.1" cy="175.4" r="1.7"/><circle cx="419.5" cy="179.5" r="1.7"/><circle cx="406.5" cy="186.4" r="1.7"/><circle cx="401.2" cy="190.4" r="1.7"/><circle cx="435.1" cy="194.3" r="1.7"/><circle cx="433.5" cy="197.9" r="1.7"/><circle cx="449.3" cy="202.1" r="1.7"/><circle cx="442.2" cy="203.7" r="1.7"/><circle cx="440.3" cy="206.4" r="1.7"/><circle cx="420.4" cy="213.0" r="1.7"/><circle cx="447.7" cy="217.9" r="1.7"/><circle cx="443.4" cy="220.0" r="1.7"/><circle cx="428.0" cy="221.1" r="1.7"/><circle cx="428.4" cy="226.3" r="1.7"/><circle cx="438.2" cy="229.8" r="1.7"/><circle cx="440.9" cy="231.4" r="1.7"/><circle cx="418.9" cy="236.9" r="1.7"/><circle cx="434.3" cy="241.2" r="1.7"/><circle cx="440.0" cy="242.2" r="1.7"/><circle cx="419.0" cy="243.7" r="1.7"/><circle cx="440.3" cy="246.4" r="1.7"/><circle cx="436.7" cy="247.6" r="1.7"/><circle cx="422.9" cy="249.2" r="1.7"/><circle cx="429.0" cy="250.0" r="1.7"/><circle cx="430.8" cy="257.1" r="1.7"/><circle cx="428.9" cy="260.3" r="1.7"/><circle cx="427.5" cy="264.2" r="1.7"/><circle cx="417.1" cy="268.2" r="1.7"/><circle cx="410.6" cy="271.4" r="1.7"/></g>
<polyline points="473.6,52.1 468.3,56.1 468.3,71.6 472.8,80.6 468.3,83.4 472.3,86.4 468.3,92.1 468.5,95.3 468.5,100.5 468.5,106.4 468.5,109.2 470.4,114.3 471.7,125.0 468.5,127.9 475.7,129.8 470.1,132.9 468.5,135.3 470.3,148.0 473.8,152.6 468.7,157.3 476.6,164.4 468.7,173.5 468.7,175.0 468.7,179.5 468.7,186.4 468.7,190.4 468.5,194.0 468.3,197.8 470.6,201.6 468.3,204.8 468.3,212.7 468.3,217.9 471.4,219.0 468.3,225.0 470.6,229.0 474.6,231.0 468.3,236.9 468.3,240.8 468.3,246.4 469.6,248.9 468.3,250.5 468.3,257.1 468.3,260.3 469.6,264.2 471.1,268.2 469.6,271.4" fill="none" stroke="#111111" stroke-width="1.0" stroke-linejoin="round"/>
<g fill="#111111"><circle cx="473.6" cy="52.1" r="1.7"/><circle cx="468.3" cy="56.1" r="1.7"/><circle cx="468.3" cy="71.6" r="1.7"/><circle cx="472.8" cy="80.6" r="1.7"/><circle cx="468.3" cy="83.4" r="1.7"/><circle cx="472.3" cy="86.4" r="1.7"/><circle cx="468.3" cy="92.1" r="1.7"/><circle cx="468.5" cy="95.3" r="1.7"/><circle cx="468.5" cy="100.5" r="1.7"/><circle cx="468.5" cy="106.4" r="1.7"/><circle cx="468.5" cy="109.2" r="1.7"/><circle cx="470.4" cy="114.3" r="1.7"/><circle cx="471.7" cy="125.0" r="1.7"/><circle cx="468.5" cy="127.9" r="1.7"/><circle cx="475.7" cy="129.8" r="1.7"/><circle cx="470.1" cy="132.9" r="1.7"/><circle cx="468.5" cy="135.3" r="1.7"/><circle cx="470.3" cy="148.0" r="1.7"/><circle cx="473.8" cy="152.6" r="1.7"/><circle cx="468.7" cy="157.3" r="1.7"/><circle cx="476.6" cy="164.4" r="1.7"/><circle cx="468.7" cy="173.5" r="1.7"/><circle cx="468.7" cy="175.0" r="1.7"/><circle cx="468.7" cy="179.5" r="1.7"/><circle cx="468.7" cy="186.4" r="1.7"/><circle cx="468.7" cy="190.4" r="1.7"/><circle cx="468.5" cy="194.0" r="1.7"/><circle cx="468.3" cy="197.8" r="1.7"/><circle cx="470.6" cy="201.6" r="1.7"/><circle cx="468.3" cy="204.8" r="1.7"/><circle cx="468.3" cy="212.7" r="1.7"/><circle cx="468.3" cy="217.9" r="1.7"/><circle cx="471.4" cy="219.0" r="1.7"/><circle cx="468.3" cy="225.0" r="1.7"/><circle cx="470.6" cy="229.0" r="1.7"/><circle cx="474.6" cy="231.0" r="1.7"/><circle cx="468.3" cy="236.9" r="1.7"/><circle cx="468.3" cy="240.8" r="1.7"/><circle cx="468.3" cy="246.4" r="1.7"/><circle cx="469.6" cy="248.9" r="1.7"/><circle cx="468.3" cy="250.5" r="1.7"/><circle cx="468.3" cy="257.1" r="1.7"/><circle cx="468.3" cy="260.3" r="1.7"/><circle cx="469.6" cy="264.2" r="1.7"/><circle cx="471.1" cy="268.2" r="1.7"/><circle cx="469.6" cy="271.4" r="1.7"/></g>
<polyline points="477.7,52.6 468.2,56.1 480.8,71.6 487.9,80.6 495.1,83.4 493.5,86.4 487.2,92.1 479.2,95.3 474.9,100.5 474.1,106.4 474.9,109.2 477.7,114.3 499.7,125.0 484.7,127.9 493.8,130.1 490.5,132.9 481.0,135.6 471.0,148.0 479.3,152.6 468.7,157.3 488.0,164.4 473.5,173.5 468.7,175.4 469.8,179.5 469.8,186.4 469.8,190.4 478.5,194.0 469.0,197.8 488.0,202.1 469.8,204.8 476.6,213.2 482.5,219.5 468.3,221.1 488.0,229.5 468.3,236.9 473.3,241.2 477.1,242.1 468.6,243.8 474.3,246.4 477.6,246.9 485.4,248.9 479.8,250.0 484.6,260.3 493.8,264.1 490.3,267.7 529.2,269.7 488.8,271.3" fill="none" stroke="#11994a" stroke-width="1.0" stroke-linejoin="round"/>
<g fill="#11994a"><circle cx="477.7" cy="52.6" r="1.7"/><circle cx="468.2" cy="56.1" r="1.7"/><circle cx="480.8" cy="71.6" r="1.7"/><circle cx="487.9" cy="80.6" r="1.7"/><circle cx="495.1" cy="83.4" r="1.7"/><circle cx="493.5" cy="86.4" r="1.7"/><circle cx="487.2" cy="92.1" r="1.7"/><circle cx="479.2" cy="95.3" r="1.7"/><circle cx="474.9" cy="100.5" r="1.7"/><circle cx="474.1" cy="106.4" r="1.7"/><circle cx="474.9" cy="109.2" r="1.7"/><circle cx="477.7" cy="114.3" r="1.7"/><circle cx="499.7" cy="125.0" r="1.7"/><circle cx="484.7" cy="127.9" r="1.7"/><circle cx="493.8" cy="130.1" r="1.7"/><circle cx="490.5" cy="132.9" r="1.7"/><circle cx="481.0" cy="135.6" r="1.7"/><circle cx="471.0" cy="148.0" r="1.7"/><circle cx="479.3" cy="152.6" r="1.7"/><circle cx="468.7" cy="157.3" r="1.7"/><circle cx="488.0" cy="164.4" r="1.7"/><circle cx="473.5" cy="173.5" r="1.7"/><circle cx="468.7" cy="175.4" r="1.7"/><circle cx="469.8" cy="179.5" r="1.7"/><circle cx="469.8" cy="186.4" r="1.7"/><circle cx="469.8" cy="190.4" r="1.7"/><circle cx="478.5" cy="194.0" r="1.7"/><circle cx="469.0" cy="197.8" r="1.7"/><circle cx="488.0" cy="202.1" r="1.7"/><circle cx="469.8" cy="204.8" r="1.7"/><circle cx="476.6" cy="213.2" r="1.7"/><circle cx="482.5" cy="219.5" r="1.7"/><circle cx="468.3" cy="221.1" r="1.7"/><circle cx="488.0" cy="229.5" r="1.7"/><circle cx="468.3" cy="236.9" r="1.7"/><circle cx="473.3" cy="241.2" r="1.7"/><circle cx="477.1" cy="242.1" r="1.7"/><circle cx="468.6" cy="243.8" r="1.7"/><circle cx="474.3" cy="246.4" r="1.7"/><circle cx="477.6" cy="246.9" r="1.7"/><circle cx="485.4" cy="248.9" r="1.7"/><circle cx="479.8" cy="250.0" r="1.7"/><circle cx="484.6" cy="260.3" r="1.7"/><circle cx="493.8" cy="264.1" r="1.7"/><circle cx="490.3" cy="267.7" r="1.7"/><circle cx="529.2" cy="269.7" r="1.7"/><circle cx="488.8" cy="271.3" r="1.7"/></g>
<polyline points="553.5,52.6 605.1,56.1 567.7,71.6 549.8,80.6 545.6,83.4 541.4,86.4 551.7,92.1 541.5,95.3 551.5,100.5 551.5,106.4 541.7,109.2 582.8,114.3 557.8,125.0 583.6,127.9 550.4,129.8 554.3,132.9 561.4,135.3 544.0,148.0 541.4,152.6 541.4,157.3 541.4,164.4 541.4,173.5 541.4,175.0 541.4,179.5 541.4,186.1 541.4,190.4 541.4,194.0 547.1,197.8 541.4,201.3 541.4,204.8 541.4,212.7 541.4,217.9 541.4,220.0 541.4,226.1 541.4,230.6 541.4,236.9 541.4,241.3 541.4,243.2 541.4,246.2 541.4,248.9 541.4,250.5 541.4,256.3 541.4,260.0 541.4,264.0 541.4,267.4 541.4,269.8 541.4,272.0" fill="none" stroke="#36299a" stroke-width="1.0" stroke-linejoin="round"/>
<g fill="#36299a"><circle cx="553.5" cy="52.6" r="1.7"/><circle cx="605.1" cy="56.1" r="1.7"/><circle cx="567.7" cy="71.6" r="1.7"/><circle cx="549.8" cy="80.6" r="1.7"/><circle cx="545.6" cy="83.4" r="1.7"/><circle cx="541.4" cy="86.4" r="1.7"/><circle cx="551.7" cy="92.1" r="1.7"/><circle cx="541.5" cy="95.3" r="1.7"/><circle cx="551.5" cy="100.5" r="1.7"/><circle cx="551.5" cy="106.4" r="1.7"/><circle cx="541.7" cy="109.2" r="1.7"/><circle cx="582.8" cy="114.3" r="1.7"/><circle cx="557.8" cy="125.0" r="1.7"/><circle cx="583.6" cy="127.9" r="1.7"/><circle cx="550.4" cy="129.8" r="1.7"/><circle cx="554.3" cy="132.9" r="1.7"/><circle cx="561.4" cy="135.3" r="1.7"/><circle cx="544.0" cy="148.0" r="1.7"/><circle cx="541.4" cy="152.6" r="1.7"/><circle cx="541.4" cy="157.3" r="1.7"/><circle cx="541.4" cy="164.4" r="1.7"/><circle cx="541.4" cy="173.5" r="1.7"/><circle cx="541.4" cy="175.0" r="1.7"/><circle cx="541.4" cy="179.5" r="1.7"/><circle cx="541.4" cy="186.1" r="1.7"/><circle cx="541.4" cy="190.4" r="1.7"/><circle cx="541.4" cy="194.0" r="1.7"/><circle cx="547.1" cy="197.8" r="1.7"/><circle cx="541.4" cy="201.3" r="1.7"/><circle cx="541.4" cy="204.8" r="1.7"/><circle cx="541.4" cy="212.7" r="1.7"/><circle cx="541.4" cy="217.9" r="1.7"/><circle cx="541.4" cy="220.0" r="1.7"/><circle cx="541.4" cy="226.1" r="1.7"/><circle cx="541.4" cy="230.6" r="1.7"/><circle cx="541.4" cy="236.9" r="1.7"/><circle cx="541.4" cy="241.3" r="1.7"/><circle cx="541.4" cy="243.2" r="1.7"/><circle cx="541.4" cy="246.2" r="1.7"/><circle cx="541.4" cy="248.9" r="1.7"/><circle cx="541.4" cy="250.5" r="1.7"/><circle cx="541.4" cy="256.3" r="1.7"/><circle cx="541.4" cy="260.0" r="1.7"/><circle cx="541.4" cy="264.0" r="1.7"/><circle cx="541.4" cy="267.4" r="1.7"/><circle cx="541.4" cy="269.8" r="1.7"/><circle cx="541.4" cy="272.0" r="1.7"/></g>
<polyline points="647.1,52.6 656.6,56.1 630.2,71.6 617.4,80.6 632.9,83.4 617.1,86.4 627.0,92.1 645.1,95.3 636.0,100.3 616.9,106.4 635.1,109.2 631.4,114.8 627.2,125.4 625.6,127.9 633.0,129.8 623.2,132.9 624.5,135.6 641.9,148.0 635.1,152.6 615.0,157.3 623.2,164.4 625.6,173.5 635.1,175.0 624.0,179.5 633.0,186.1 649.8,190.4 610.6,194.0 626.0,197.9 608.7,201.6 621.6,203.7 617.7,205.8 624.0,212.9 614.5,218.4 610.2,219.5 621.6,221.1 608.7,226.3 616.9,229.5 610.6,231.0 643.5,236.9 621.9,241.1 610.8,242.1 628.5,243.7 619.5,246.1 617.2,247.3 613.5,248.9 607.7,250.0 608.1,257.1 614.5,260.0 616.0,264.2 626.6,267.9 623.5,269.5 638.8,271.4" fill="none" stroke="#e3232b" stroke-width="1.0" stroke-linejoin="round"/>
<g fill="#e3232b"><circle cx="647.1" cy="52.6" r="1.7"/><circle cx="656.6" cy="56.1" r="1.7"/><circle cx="630.2" cy="71.6" r="1.7"/><circle cx="617.4" cy="80.6" r="1.7"/><circle cx="632.9" cy="83.4" r="1.7"/><circle cx="617.1" cy="86.4" r="1.7"/><circle cx="627.0" cy="92.1" r="1.7"/><circle cx="645.1" cy="95.3" r="1.7"/><circle cx="636.0" cy="100.3" r="1.7"/><circle cx="616.9" cy="106.4" r="1.7"/><circle cx="635.1" cy="109.2" r="1.7"/><circle cx="631.4" cy="114.8" r="1.7"/><circle cx="627.2" cy="125.4" r="1.7"/><circle cx="625.6" cy="127.9" r="1.7"/><circle cx="633.0" cy="129.8" r="1.7"/><circle cx="623.2" cy="132.9" r="1.7"/><circle cx="624.5" cy="135.6" r="1.7"/><circle cx="641.9" cy="148.0" r="1.7"/><circle cx="635.1" cy="152.6" r="1.7"/><circle cx="615.0" cy="157.3" r="1.7"/><circle cx="623.2" cy="164.4" r="1.7"/><circle cx="625.6" cy="173.5" r="1.7"/><circle cx="635.1" cy="175.0" r="1.7"/><circle cx="624.0" cy="179.5" r="1.7"/><circle cx="633.0" cy="186.1" r="1.7"/><circle cx="649.8" cy="190.4" r="1.7"/><circle cx="610.6" cy="194.0" r="1.7"/><circle cx="626.0" cy="197.9" r="1.7"/><circle cx="608.7" cy="201.6" r="1.7"/><circle cx="621.6" cy="203.7" r="1.7"/><circle cx="617.7" cy="205.8" r="1.7"/><circle cx="624.0" cy="212.9" r="1.7"/><circle cx="614.5" cy="218.4" r="1.7"/><circle cx="610.2" cy="219.5" r="1.7"/><circle cx="621.6" cy="221.1" r="1.7"/><circle cx="608.7" cy="226.3" r="1.7"/><circle cx="616.9" cy="229.5" r="1.7"/><circle cx="610.6" cy="231.0" r="1.7"/><circle cx="643.5" cy="236.9" r="1.7"/><circle cx="621.9" cy="241.1" r="1.7"/><circle cx="610.8" cy="242.1" r="1.7"/><circle cx="628.5" cy="243.7" r="1.7"/><circle cx="619.5" cy="246.1" r="1.7"/><circle cx="617.2" cy="247.3" r="1.7"/><circle cx="613.5" cy="248.9" r="1.7"/><circle cx="607.7" cy="250.0" r="1.7"/><circle cx="608.1" cy="257.1" r="1.7"/><circle cx="614.5" cy="260.0" r="1.7"/><circle cx="616.0" cy="264.2" r="1.7"/><circle cx="626.6" cy="267.9" r="1.7"/><circle cx="623.5" cy="269.5" r="1.7"/><circle cx="638.8" cy="271.4" r="1.7"/></g>
<polyline points="696.2,52.6 686.1,56.1 710.6,71.6 718.6,80.6 701.8,83.4 721.9,86.4 713.9,92.1 698.4,95.3 705.7,100.0 716.4,106.4 707.4,109.2 701.6,114.6 706.5,125.0 709.5,128.6 713.7,132.9 711.6,135.6 708.0,148.0 710.5,152.6 719.5,157.3 719.1,164.4 709.6,173.5 709.0,175.4 714.3,179.5 707.4,186.4 697.3,190.4 723.2,194.5 712.4,197.8 727.5,201.6 721.6,203.7 719.1,205.8 712.7,212.9 721.6,217.9 727.5,219.5 723.8,221.1 723.8,226.3 726.3,231.0 709.6,236.9 715.9,241.0 729.5,242.1 705.8,243.7 721.1,246.4 721.6,248.4 727.5,250.5 727.5,257.1 726.7,260.3 727.5,264.2 714.8,268.2 712.7,269.0 706.4,271.4" fill="none" stroke="#11994a" stroke-width="1.0" stroke-linejoin="round"/>
<g fill="#11994a"><circle cx="696.2" cy="52.6" r="1.7"/><circle cx="686.1" cy="56.1" r="1.7"/><circle cx="710.6" cy="71.6" r="1.7"/><circle cx="718.6" cy="80.6" r="1.7"/><circle cx="701.8" cy="83.4" r="1.7"/><circle cx="721.9" cy="86.4" r="1.7"/><circle cx="713.9" cy="92.1" r="1.7"/><circle cx="698.4" cy="95.3" r="1.7"/><circle cx="705.7" cy="100.0" r="1.7"/><circle cx="716.4" cy="106.4" r="1.7"/><circle cx="707.4" cy="109.2" r="1.7"/><circle cx="701.6" cy="114.6" r="1.7"/><circle cx="706.5" cy="125.0" r="1.7"/><circle cx="709.5" cy="128.6" r="1.7"/><circle cx="713.7" cy="132.9" r="1.7"/><circle cx="711.6" cy="135.6" r="1.7"/><circle cx="708.0" cy="148.0" r="1.7"/><circle cx="710.5" cy="152.6" r="1.7"/><circle cx="719.5" cy="157.3" r="1.7"/><circle cx="719.1" cy="164.4" r="1.7"/><circle cx="709.6" cy="173.5" r="1.7"/><circle cx="709.0" cy="175.4" r="1.7"/><circle cx="714.3" cy="179.5" r="1.7"/><circle cx="707.4" cy="186.4" r="1.7"/><circle cx="697.3" cy="190.4" r="1.7"/><circle cx="723.2" cy="194.5" r="1.7"/><circle cx="712.4" cy="197.8" r="1.7"/><circle cx="727.5" cy="201.6" r="1.7"/><circle cx="721.6" cy="203.7" r="1.7"/><circle cx="719.1" cy="205.8" r="1.7"/><circle cx="712.7" cy="212.9" r="1.7"/><circle cx="721.6" cy="217.9" r="1.7"/><circle cx="727.5" cy="219.5" r="1.7"/><circle cx="723.8" cy="221.1" r="1.7"/><circle cx="723.8" cy="226.3" r="1.7"/><circle cx="726.3" cy="231.0" r="1.7"/><circle cx="709.6" cy="236.9" r="1.7"/><circle cx="715.9" cy="241.0" r="1.7"/><circle cx="729.5" cy="242.1" r="1.7"/><circle cx="705.8" cy="243.7" r="1.7"/><circle cx="721.1" cy="246.4" r="1.7"/><circle cx="721.6" cy="248.4" r="1.7"/><circle cx="727.5" cy="250.5" r="1.7"/><circle cx="727.5" cy="257.1" r="1.7"/><circle cx="726.7" cy="260.3" r="1.7"/><circle cx="727.5" cy="264.2" r="1.7"/><circle cx="714.8" cy="268.2" r="1.7"/><circle cx="712.7" cy="269.0" r="1.7"/><circle cx="706.4" cy="271.4" r="1.7"/></g>
<text x="750.8" y="126.6" font-size="12.3" font-family="Liberation Sans, Arial, sans-serif" font-weight="bold" fill="#222">S1b</text>
<text x="751.2" y="254.3" font-size="12.3" font-family="Liberation Sans, Arial, sans-serif" font-weight="bold" fill="#222">S1a</text>
</svg></body></html>
